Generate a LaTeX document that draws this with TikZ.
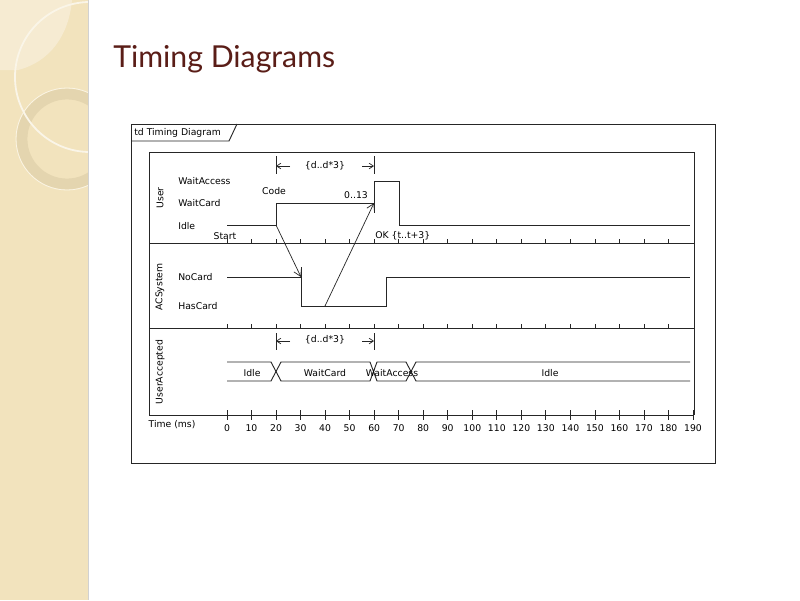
\documentclass[tikz,border=0pt]{standalone}
\usepackage{fontspec}
\newfontfamily\tdfont{DejaVu Sans}
\newfontfamily\slidefont{Lato}
\usetikzlibrary{arrows.meta}

\definecolor{bandbeige}{HTML}{F2E3BD}
\definecolor{bandlight}{HTML}{F6EBD2}
\definecolor{ringbeige}{HTML}{E4D5AF}
\definecolor{titlebrown}{HTML}{5A1D17}

\tikzset{
  lbl/.style={font=\tdfont\fontsize{6.6}{8}\selectfont, inner sep=0pt},
  sig/.style={line width=0.65pt, black!85},
  msg/.style={line width=0.5pt, black!85, -{Straight Barb[length=5pt,width=6pt]}},
  tk/.style={line width=0.5pt, black!85},
  dur/.style={line width=0.5pt, black!85, -{Straight Barb[length=3pt,width=4pt]}},
}

\begin{document}
\begin{tikzpicture}[x=0.25mm,y=-0.25mm]
%\draw[step=10,gray,very thin] (0,0) grid (800,600);
\useasboundingbox (0,0) rectangle (800,600);
\fill[white] (0,0) rectangle (800,600);

% slide band
\begin{scope}
\clip (0,0) rectangle (88,600);
\fill[bandbeige] (0,0) rectangle (88,600);
\fill[bandlight] (0,0) -- (72,0) .. controls (69,35) and (50,62) .. (18,70) -- (0,70) -- cycle;
\draw[ringbeige, line width=2.7mm] (67,139) circle (45);
\draw[white!60!bandbeige, line width=0.2mm] (67,139) circle (51);
\draw[white!65!bandbeige, line width=0.45mm] (90,77) circle (75);
\end{scope}
\draw[black!18, line width=0.4mm] (88.5,0) -- (88.5,600);

\node[font=\slidefont\fontsize{21.5}{24}\selectfont, text=titlebrown, anchor=base west, inner sep=0pt] (title) at (113,67) {Timing Diagrams};

% frame
\draw[sig] (131,124) rectangle (715,463);
\draw[sig] (131,141) -- (229,141) -- (237,124);
\node[lbl, anchor=west] (frame) at (134,133) {td Timing Diagram};

% lifelines
\draw[sig] (149,415) -- (149,152) -- (694,152) -- (694,415);
\draw[sig] (149,243) -- (694,243);
\draw[sig] (149,328) -- (694,328);
\draw[sig] (149,415) -- (694,415);

\node[lbl, rotate=90] (user) at (160,198) {User};
\node[lbl, rotate=90] (acsys) at (160,287) {ACSystem};
\node[lbl, rotate=90] (useracc) at (160,372) {UserAccepted};

\node[lbl, anchor=west] (waitaccess) at (178,181) {WaitAccess};
\node[lbl, anchor=west] (waitcard) at (178,203) {WaitCard};
\node[lbl, anchor=west] (idle) at (178,226) {Idle};
\node[lbl, anchor=west] (nocard) at (178,277) {NoCard};
\node[lbl, anchor=west] (hascard) at (178,306) {HasCard};

% User state line
\draw[sig] (227,225) -- (276,225) -- (276,203) -- (374,203) -- (374,181) -- (399,181) -- (399,225) -- (690,225);
\draw[sig] (374,203) -- (374,213);

% ACSystem state line
\draw[sig] (227,277) -- (301,277);
\draw[sig] (301,267) -- (301,306) -- (386,306) -- (386,277) -- (690,277);

% UserAccepted values
\draw[sig] (227,362) -- (271,362) -- (281,381) -- (370,381) -- (377,362) -- (406,362) -- (416,381) -- (690,381);
\draw[sig] (227,381) -- (271,381) -- (281,362) -- (370,362) -- (377,381) -- (406,381) -- (416,362) -- (690,362);
\node[lbl] (vidle) at (252,373) {Idle};
\node[lbl] (vwaitcard) at (325,373) {WaitCard};
\node[lbl] (vwaitaccess) at (392,373) {WaitAccess};
\node[lbl] (vidle2) at (550,373) {Idle};

% messages
\coordinate (codeSrc) at (276,225);
\coordinate (codeDst) at (301,277);
\coordinate (okSrc) at (325,306);
\coordinate (okDst) at (374,203);
\draw[msg] (codeSrc) -- (codeDst);
\draw[msg] (okSrc) -- (okDst);
\node[lbl] (start) at (225,236) {Start};
\node[lbl] (code) at (274,191) {Code};
\node[lbl] (range) at (356,195) {0..13};
\node[lbl, anchor=west] (ok) at (375,236) {OK \{t..t+3\}};

% duration constraints
\draw[tk] (276,156) -- (276,174);
\draw[tk] (374,156) -- (374,174);
\coordinate (durA1) at (290,166);
\coordinate (durA2) at (276,166);
\coordinate (durB1) at (362,166);
\coordinate (durB2) at (374,166);
\draw[dur] (durA1) -- (durA2);
\draw[dur] (durB1) -- (durB2);
\node[lbl] (durtop) at (325,166) {\{d..d*3\}};

\draw[tk] (276,333) -- (276,350);
\draw[tk] (374,333) -- (374,350);
\coordinate (durC1) at (290,341);
\coordinate (durC2) at (276,341);
\coordinate (durD1) at (362,341);
\coordinate (durD2) at (374,341);
\draw[dur] (durC1) -- (durC2);
\draw[dur] (durD1) -- (durD2);
\node[lbl] (durbot) at (325,340) {\{d..d*3\}};

% ticks on separators
\draw[tk] (227,239) -- (227,243); \draw[tk] (227,324) -- (227,328);
\draw[tk] (251.5,239) -- (251.5,243); \draw[tk] (251.5,324) -- (251.5,328);
\draw[tk] (276.1,239) -- (276.1,243); \draw[tk] (276.1,324) -- (276.1,328);
\draw[tk] (300.6,239) -- (300.6,243); \draw[tk] (300.6,324) -- (300.6,328);
\draw[tk] (325.1,239) -- (325.1,243); \draw[tk] (325.1,324) -- (325.1,328);
\draw[tk] (349.6,239) -- (349.6,243); \draw[tk] (349.6,324) -- (349.6,328);
\draw[tk] (374.2,239) -- (374.2,243); \draw[tk] (374.2,324) -- (374.2,328);
\draw[tk] (398.7,239) -- (398.7,243); \draw[tk] (398.7,324) -- (398.7,328);
\draw[tk] (423.2,239) -- (423.2,243); \draw[tk] (423.2,324) -- (423.2,328);
\draw[tk] (447.7,239) -- (447.7,243); \draw[tk] (447.7,324) -- (447.7,328);
\draw[tk] (472.3,239) -- (472.3,243); \draw[tk] (472.3,324) -- (472.3,328);
\draw[tk] (496.8,239) -- (496.8,243); \draw[tk] (496.8,324) -- (496.8,328);
\draw[tk] (521.3,239) -- (521.3,243); \draw[tk] (521.3,324) -- (521.3,328);
\draw[tk] (545.8,239) -- (545.8,243); \draw[tk] (545.8,324) -- (545.8,328);
\draw[tk] (570.4,239) -- (570.4,243); \draw[tk] (570.4,324) -- (570.4,328);
\draw[tk] (594.9,239) -- (594.9,243); \draw[tk] (594.9,324) -- (594.9,328);
\draw[tk] (619.4,239) -- (619.4,243); \draw[tk] (619.4,324) -- (619.4,328);
\draw[tk] (643.9,239) -- (643.9,243); \draw[tk] (643.9,324) -- (643.9,328);
\draw[tk] (668.5,239) -- (668.5,243); \draw[tk] (668.5,324) -- (668.5,328);

% time axis
\node[lbl] (time) at (172,425) {Time (ms)};
\draw[tk] (227,410) -- (227,420);
\draw[tk] (251.5,410) -- (251.5,420);
\draw[tk] (276.1,410) -- (276.1,420);
\draw[tk] (300.6,410) -- (300.6,420);
\draw[tk] (325.1,410) -- (325.1,420);
\draw[tk] (349.6,410) -- (349.6,420);
\draw[tk] (374.2,410) -- (374.2,420);
\draw[tk] (398.7,410) -- (398.7,420);
\draw[tk] (423.2,410) -- (423.2,420);
\draw[tk] (447.7,410) -- (447.7,420);
\draw[tk] (472.3,410) -- (472.3,420);
\draw[tk] (496.8,410) -- (496.8,420);
\draw[tk] (521.3,410) -- (521.3,420);
\draw[tk] (545.8,410) -- (545.8,420);
\draw[tk] (570.4,410) -- (570.4,420);
\draw[tk] (594.9,410) -- (594.9,420);
\draw[tk] (619.4,410) -- (619.4,420);
\draw[tk] (643.9,410) -- (643.9,420);
\draw[tk] (668.5,410) -- (668.5,420);
\draw[tk] (693,410) -- (693,420);

\node[lbl] (t0) at (227,428) {0};
\node[lbl] (t10) at (251.5,428) {10};
\node[lbl] (t20) at (276.1,428) {20};
\node[lbl] (t30) at (300.6,428) {30};
\node[lbl] (t40) at (325.1,428) {40};
\node[lbl] (t50) at (349.6,428) {50};
\node[lbl] (t60) at (374.2,428) {60};
\node[lbl] (t70) at (398.7,428) {70};
\node[lbl] (t80) at (423.2,428) {80};
\node[lbl] (t90) at (447.7,428) {90};
\node[lbl] (t100) at (472.3,428) {100};
\node[lbl] (t110) at (496.8,428) {110};
\node[lbl] (t120) at (521.3,428) {120};
\node[lbl] (t130) at (545.8,428) {130};
\node[lbl] (t140) at (570.4,428) {140};
\node[lbl] (t150) at (594.9,428) {150};
\node[lbl] (t160) at (619.4,428) {160};
\node[lbl] (t170) at (643.9,428) {170};
\node[lbl] (t180) at (668.5,428) {180};
\node[lbl] (t190) at (693,428) {190};

\end{tikzpicture}
\end{document}
